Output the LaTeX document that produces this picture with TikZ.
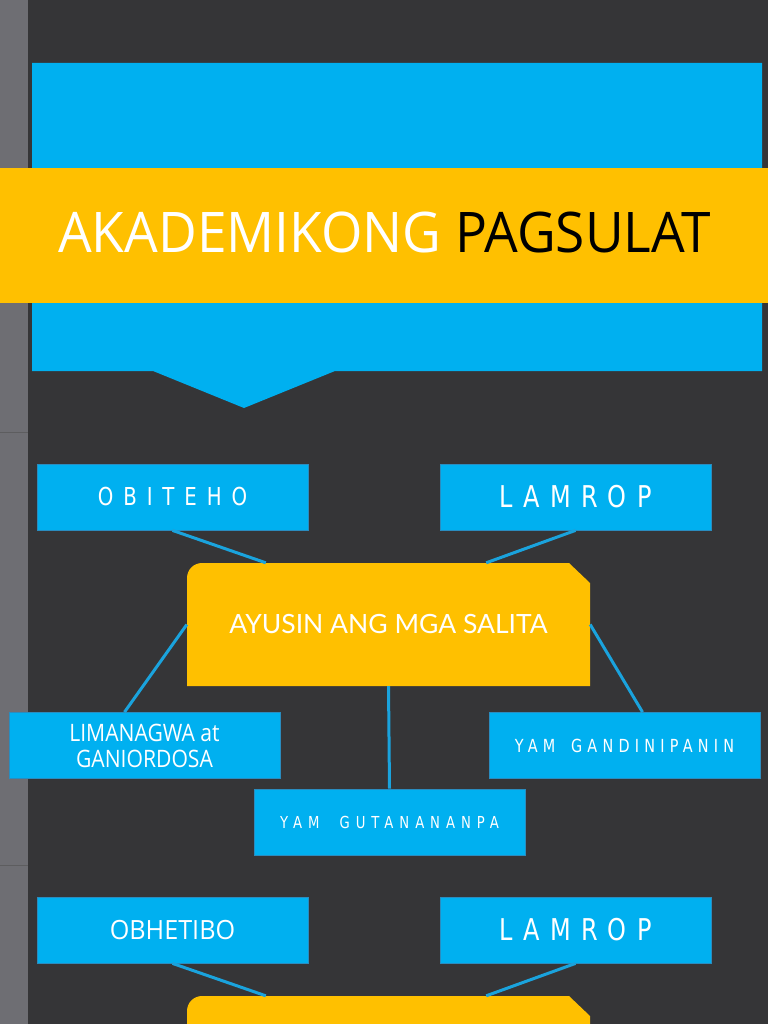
\documentclass[tikz,border=0pt]{standalone}
\usepackage{fontspec}
\usepackage{tikz}
\usetikzlibrary{positioning}
\setmainfont{Open Sans}
\newfontfamily\titlefont[FakeStretch=0.95]{Open Sans}
\newfontfamily\narrowfont[FakeStretch=0.88]{Open Sans}
\newfontfamily\spacedfont[FakeStretch=0.8]{DejaVu Sans}
\newfontfamily\ayusinfont{Lato}
\definecolor{slate}{HTML}{353537}
\definecolor{sidebar}{HTML}{6E6E73}
\definecolor{sky}{HTML}{00B0F0}
\definecolor{skyedge}{HTML}{2A8CBF}
\definecolor{amber}{HTML}{FFC000}
\definecolor{wire}{HTML}{1AA3DD}

\begin{document}
\begin{tikzpicture}
  [x=1pt,y=-1pt,
   bluebox/.style={rectangle,fill=sky,draw=skyedge,line width=.8pt,
     minimum width=271pt,minimum height=66pt,inner sep=0pt,text=white,align=center},
   yellowbox/.style={rectangle,minimum width=403pt,minimum height=123pt,inner sep=0pt,text=white},
   link/.style={draw=wire,line width=3pt}]
  \useasboundingbox (0,0) rectangle (768,1024);
  \clip (0,0) rectangle (768,1024);
  \fill[slate] (0,0) rectangle (768,1024);
  \fill[sidebar] (0,0) rectangle (28,1024);
  \draw[slate!80,line width=1pt] (0,432) -- (28,432) (0,865) -- (28,865);

  \fill[sky] (32,63) -- (762,63) -- (762,371) -- (335,371) -- (244,408)
    -- (153,371) -- (32,371) -- cycle;
  \fill[amber] (0,168) rectangle (768,303);
  \node[font=\titlefont\fontsize{56}{60}\selectfont] (title) at (384.5,232)
    {\textcolor{white}{AKADEMIKONG} PAGSULAT};

  \fill[amber] (202,563) -- (569,563) -- (590,583) -- (590,686) -- (187,686)
    -- (187,578) arc (180:270:15) -- cycle;
  \fill[amber] (202,996) -- (569,996) -- (590,1016) -- (590,1119) -- (187,1119)
    -- (187,1011) arc (180:270:15) -- cycle;

  \node[bluebox,font=\spacedfont\addfontfeature{LetterSpace=40}\fontsize{24.7}{28}\selectfont]
    (obiteho) at (172.5,497) {OBITEHO};
  \node[bluebox,font=\spacedfont\addfontfeature{LetterSpace=34}\fontsize{30}{34}\selectfont]
    (lamrop) at (575.5,497) {LAMROP};
  \node[yellowbox,font=\ayusinfont\fontsize{26.5}{30}\selectfont]
    (ayusin) at (388.5,624.5) {AYUSIN ANG MGA SALITA};
  \node[bluebox,font=\narrowfont\fontsize{24}{26}\selectfont]
    (limanagwa) at (144.5,745.5) {LIMANAGWA at\\GANIORDOSA};
  \node[bluebox,font=\spacedfont\addfontfeature{LetterSpace=29}\fontsize{18}{20}\selectfont]
    (gandinipanin) at (624.5,745.5) {YAM\hspace{6pt} GANDINIPANIN};
  \node[bluebox,font=\spacedfont\addfontfeature{LetterSpace=36}\fontsize{16.5}{18}\selectfont]
    (gutanananpa) at (389.5,822) {YAM\ \ GUTANANANPA};

  \node[bluebox,font=\titlefont\fontsize{26.5}{28}\selectfont]
    (obhetibo) at (172.5,930) {OBHETIBO};
  \node[bluebox,font=\spacedfont\addfontfeature{LetterSpace=34}\fontsize{30}{34}\selectfont]
    (lamropb) at (575.5,930) {LAMROP};
  \node[yellowbox] (ayusinb) at (388.5,1057.5) {};

  \draw[link] (obiteho.south) -- ([xshift=79pt]ayusin.north west);
  \draw[link] (lamrop.south) -- ([xshift=-104pt]ayusin.north east);
  \draw[link] (ayusin.west) -- ([xshift=-20pt]limanagwa.north);
  \draw[link] (ayusin.east) -- ([xshift=18pt]gandinipanin.north);
  \draw[link] (ayusin.south) -- (gutanananpa.north);
  \draw[link] (obhetibo.south) -- ([xshift=79pt]ayusinb.north west);
  \draw[link] (lamropb.south) -- ([xshift=-104pt]ayusinb.north east);
\end{tikzpicture}
\end{document}
